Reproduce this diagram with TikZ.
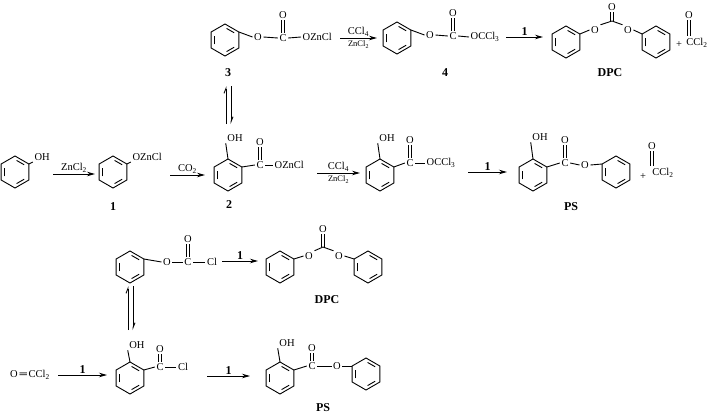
\documentclass[tikz,border=0pt]{standalone}
\usepackage{fontspec}
\setmainfont{Liberation Serif}
\usetikzlibrary{arrows.meta,calc}
\newcommand\ring[3]{% name, x, y
  \coordinate (#1) at (#2,#3);
  \foreach \a in {30,90,...,330}{%
    \coordinate (#1-\a) at ($(#2,#3)+(\a:16)$);
    \coordinate (#1-i\a) at ($(#2,#3)+(\a:12.5)$);}
  \draw[bond] (#1-30)--(#1-90)--(#1-150)--(#1-210)--(#1-270)--(#1-330)--cycle;
  \foreach \u/\v in {150/210,270/330,30/90}{%
    \draw[bond] ($(#1-i\u)!0.15!(#1-i\v)$)--($(#1-i\v)!0.15!(#1-i\u)$);}
}
\tikzset{
  bond/.style={line width=0.9pt},
  t/.style={font=\fontsize{10.5}{12}\selectfont, inner sep=1.5pt},
  lab/.style={font=\fontsize{12}{13}\selectfont\bfseries, inner sep=1pt},
  rx/.style={line width=0.9pt, -{Stealth[length=8pt,width=4.5pt]}},
  harp/.style={line width=0.9pt, -{Straight Barb[harpoon,length=5pt,width=4pt]}},
}
\newcommand\dbl[2]{\draw[bond] ($(#1)+(-1.4,0)$)--($(#2)+(-1.4,0)$); \draw[bond] ($(#1)+(1.4,0)$)--($(#2)+(1.4,0)$);}
\begin{document}
\begin{tikzpicture}[x=1pt,y=-1pt]
\useasboundingbox (0,0) rectangle (710,416);
% phenol
\ring{p}{15}{172}
\node[t,anchor=south west] (pOH) at ($(p-330)+(4,-2)$) {OH};
\draw[bond] (p-330)--(pOH.south west);
\draw[rx] (53,174)--(95,174) node[t,midway,above] {ZnCl\textsubscript{2}};
% 1
\ring{a}{113}{172}
\node[t,anchor=south west] (aO) at ($(a-330)+(4,-2)$) {OZnCl};
\draw[bond] (a-330)--(aO.south west);
\node[lab] at (113,207) {1};
\draw[rx] (170,175)--(205,175) node[t,midway,above] {CO\textsubscript{2}};
% 2
\ring{b}{228}{175}
\node[t] (bOH) at (235,138) {OH};
\draw[bond] (b-270)--(bOH.south west);
\node[t] (bC) at (260,165) {C};
\node[t] (bO) at (260,142) {O};
\dbl{bO.south}{bC.north}
\draw[bond] (b-330)--(bC.west);
\node[t,anchor=west] (bX) at (273,165) {OZnCl};
\draw[bond] (bC.east)--(bX.west);
\node[lab] at (229,205) {2};
% equilibrium 2-3
\draw[harp] (226,124)--(226,86);
\draw[harp] (231,86)--(231,124);
% 3
\ring{c}{225}{40}
\node[t] (cO) at (258,37) {O};
\draw[bond] (c-330)--(cO.west);
\node[t] (cC) at (283,38) {C};
\node[t] (cO2) at (283,15) {O};
\dbl{cO2.south}{cC.north}
\draw[bond] (cO.east)--(cC.west);
\node[t,anchor=west] (cX) at (301,37) {OZnCl};
\draw[bond] (cC.east)--(cX.west);
\node[lab] at (228,73) {3};
\draw[rx] (340,38)--(377,38) node[t,midway,above] {CCl\textsubscript{4}} node[t,midway,below=1pt] {\fontsize{8.5}{9}\selectfont ZnCl\textsubscript{2}};
% 4
\ring{d}{397}{38}
\node[t] (dO) at (430,35) {O};
\draw[bond] (d-330)--(dO.west);
\node[t] (dC) at (453,36) {C};
\node[t] (dO2) at (453,13) {O};
\dbl{dO2.south}{dC.north}
\draw[bond] (dO.east)--(dC.west);
\node[t,anchor=west] (dX) at (469,37) {OCCl\textsubscript{3}};
\draw[bond] (dC.east)--(dX.west);
\node[lab] at (445,73) {4};
\draw[rx] (506,37)--(543,37) node[lab,midway,above] {1};
% DPC top
\ring{e}{566}{42}
\node[t] (eO) at (595,30) {O};
\coordinate (eC) at (612,21);
\node[t] (eO2) at (612,7) {O};
\node[t] (eO3) at (628,30) {O};
\ring{f}{656}{42}
\draw[bond] (e-330)--(eO.west); \draw[bond] (eO.north east)--(eC)--(eO3.north west); \draw[bond] (eO3.east)--(f-210);
\dbl{eO2.south}{eC}
\node[t] at (679,45) {+};
\node[t] (gC) at (697,43) {CCl\textsubscript{2}};
\node[t] (gO) at (689,15) {O};
\dbl{gO.south}{689,36}
\node[lab] at (610,73) {DPC};
% row 2 continued
\draw[rx] (317,173)--(360,173) node[t,midway,above] {CCl\textsubscript{4}} node[t,midway,below=1pt] {\fontsize{8.5}{9}\selectfont ZnCl\textsubscript{2}};
\ring{h}{380}{175}
\node[t] (hOH) at (387,138) {OH};
\draw[bond] (h-270)--(hOH.south west);
\node[t] (hC) at (410,163) {C};
\node[t] (hO) at (410,140) {O};
\dbl{hO.south}{hC.north}
\draw[bond] (h-330)--(hC.west);
\node[t,anchor=west] (hX) at (425,163) {OCCl\textsubscript{3}};
\draw[bond] (hC.east)--(hX.west);
\draw[rx] (468,172)--(507,172) node[lab,midway,above] {1};
% PS top
\ring{i}{533}{175}
\node[t] (iOH) at (540,137) {OH};
\draw[bond] (i-270)--(iOH.south west);
\node[t] (iC) at (565,163) {C};
\node[t] (iO) at (565,140) {O};
\dbl{iO.south}{iC.north}
\draw[bond] (i-330)--(iC.west);
\node[t] (iO2) at (585,165) {O};
\draw[bond] (iC.east)--(iO2.west);
\ring{j}{616}{172}
\draw[bond] (iO2.east)--(j-210);
\node[t] at (643,177) {+};
\node[t] (kC) at (663,173) {CCl\textsubscript{2}};
\node[t] (kO) at (652,146) {O};
\dbl{kO.south}{652,166}
\node[lab] at (571,207) {PS};
% bottom: phenyl chloroformate
\ring{l}{130}{267}
\node[t] (lO) at (167,262) {O};
\draw[bond] (l-330)--(lO.west);
\node[t] (lC) at (188,262) {C};
\node[t] (lO2) at (188,239) {O};
\dbl{lO2.south}{lC.north}
\draw[bond] (lO.east)--(lC.west);
\node[t] (lCl) at (212,262) {Cl};
\draw[bond] (lC.east)--(lCl.west);
\draw[rx] (222,261)--(258,261) node[lab,midway,above] {1};
% DPC bottom
\ring{m}{280}{267}
\node[t] (mO) at (309,256) {O};
\coordinate (mC) at (323,247);
\node[t] (mO2) at (323,229) {O};
\node[t] (mO3) at (339,256) {O};
\ring{n}{368}{267}
\draw[bond] (m-330)--(mO.west); \draw[bond] (mO.north east)--(mC)--(mO3.north west); \draw[bond] (mO3.east)--(n-210);
\dbl{mO2.south}{mC}
\node[lab] at (327,300) {DPC};
\draw[harp] (128,330)--(128,286);
\draw[harp] (133,286)--(133,330);
% phosgene
\node[t] (q) at (30,375) {O\,═\,CCl\textsubscript{2}};
\draw[rx] (58,375)--(107,375) node[lab,midway,above] {1};
\ring{r}{130}{378}
\node[t] (rOH) at (137,345) {OH};
\draw[bond] (r-270)--(rOH.south west);
\node[t] (rC) at (160,367) {C};
\node[t] (rO) at (160,349) {O};
\dbl{rO.south}{rC.north}
\draw[bond] (r-330)--(rC.west);
\node[t] (rCl) at (183,367) {Cl};
\draw[bond] (rC.east)--(rCl.west);
\draw[rx] (207,376)--(250,376) node[lab,midway,above] {1};
% PS bottom
\ring{s}{280}{378}
\node[t] (sOH) at (287,343) {OH};
\draw[bond] (s-270)--(sOH.south west);
\node[t] (sC) at (312,366) {C};
\node[t] (sO) at (312,348) {O};
\dbl{sO.south}{sC.north}
\draw[bond] (s-330)--(sC.west);
\node[t] (sO2) at (337,366) {O};
\draw[bond] (sC.east)--(sO2.west);
\ring{u}{366}{374}
\draw[bond] (sO2.east)--(u-210);
\node[lab] at (323,408) {PS};
\end{tikzpicture}
\end{document}
